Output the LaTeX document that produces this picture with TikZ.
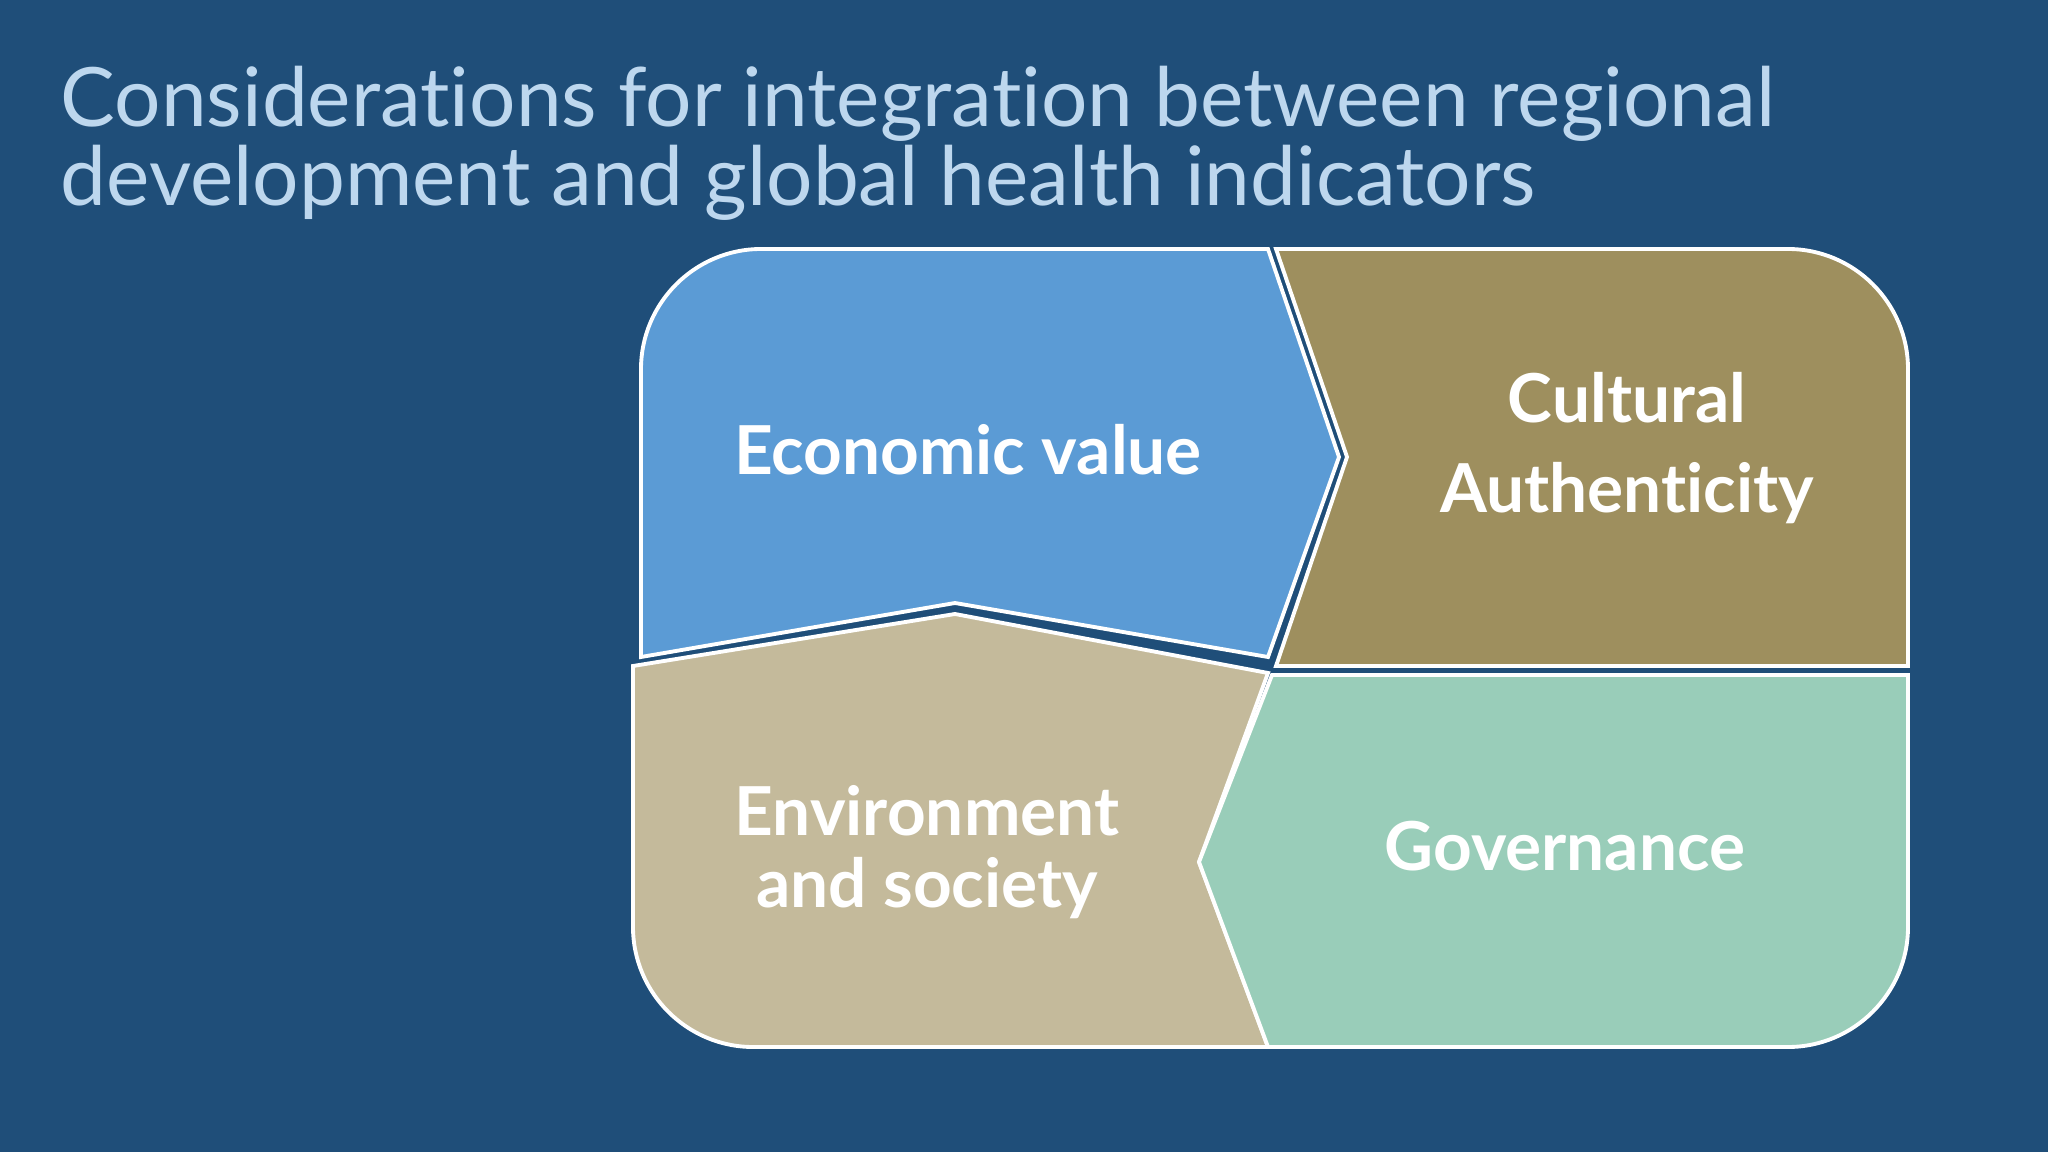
\documentclass[tikz,border=0pt]{standalone}
\usepackage{fontspec}
\setmainfont{Lato}[Ligatures=NoCommon]
\usepackage{tikz}
\definecolor{slidebg}{RGB}{31,78,121}
\definecolor{titleblue}{RGB}{189,215,238}
\definecolor{econblue}{RGB}{91,155,213}
\definecolor{cultolive}{RGB}{158,143,94}
\definecolor{envitan}{RGB}{196,186,155}
\definecolor{govgreen}{RGB}{153,205,185}

\begin{document}
\begin{tikzpicture}[x=0.01cm,y=-0.01cm,
		panel/.style={draw=white,line width=1.1pt,line join=miter},
		label/.style={text=white,align=center,font=\bfseries\fontsize{19.2}{25}\selectfont},
		heading/.style={text=titleblue,anchor=base west,inner sep=0pt,font=\fontsize{23.3}{26}\selectfont}]
		\fill[slidebg] (0,0) rectangle (2048,1152);
		\node[heading] (title1) at (60,127) {Considerations for integration between regional};
		\node[heading] (title2) at (60,206) {development and global health indicators};
		% four panels
		\draw[panel,fill=econblue] (641,657) -- (641,369) .. controls (641,303) and (695,249) .. (761,249) -- (1268,249) -- (1339,457) -- (1268,657) -- (955,603) -- cycle;
		\draw[panel,fill=cultolive] (1276,249) -- (1788,249) .. controls (1854,249) and (1908,303) .. (1908,369) -- (1908,666) -- (1276,666) -- (1347,457) -- cycle;
		\draw[panel,fill=envitan] (633,666) -- (955,614) -- (1268,673) -- (1199,862) -- (1268,1047) -- (753,1047) .. controls (687,1047) and (633,993) .. (633,927) -- cycle;
		\draw[panel,fill=govgreen] (1272,675) -- (1908,675) -- (1908,927) .. controls (1908,993) and (1854,1047) .. (1788,1047) -- (1268,1047) -- (1199,862) -- cycle;
		\node[label] (econ) at (968,450) {Economic value};
		\node[label,font=\bfseries\fontsize{19.2}{25.5}\selectfont] (cult) at (1627,448) {Cultural\\Authenticity};
		\node[label,font=\bfseries\fontsize{19.2}{20.5}\selectfont] (envi) at (927,852) {Environment\\and society};
		\node[label] (gov) at (1565,846) {Governance};
	\end{tikzpicture}
\end{document}
